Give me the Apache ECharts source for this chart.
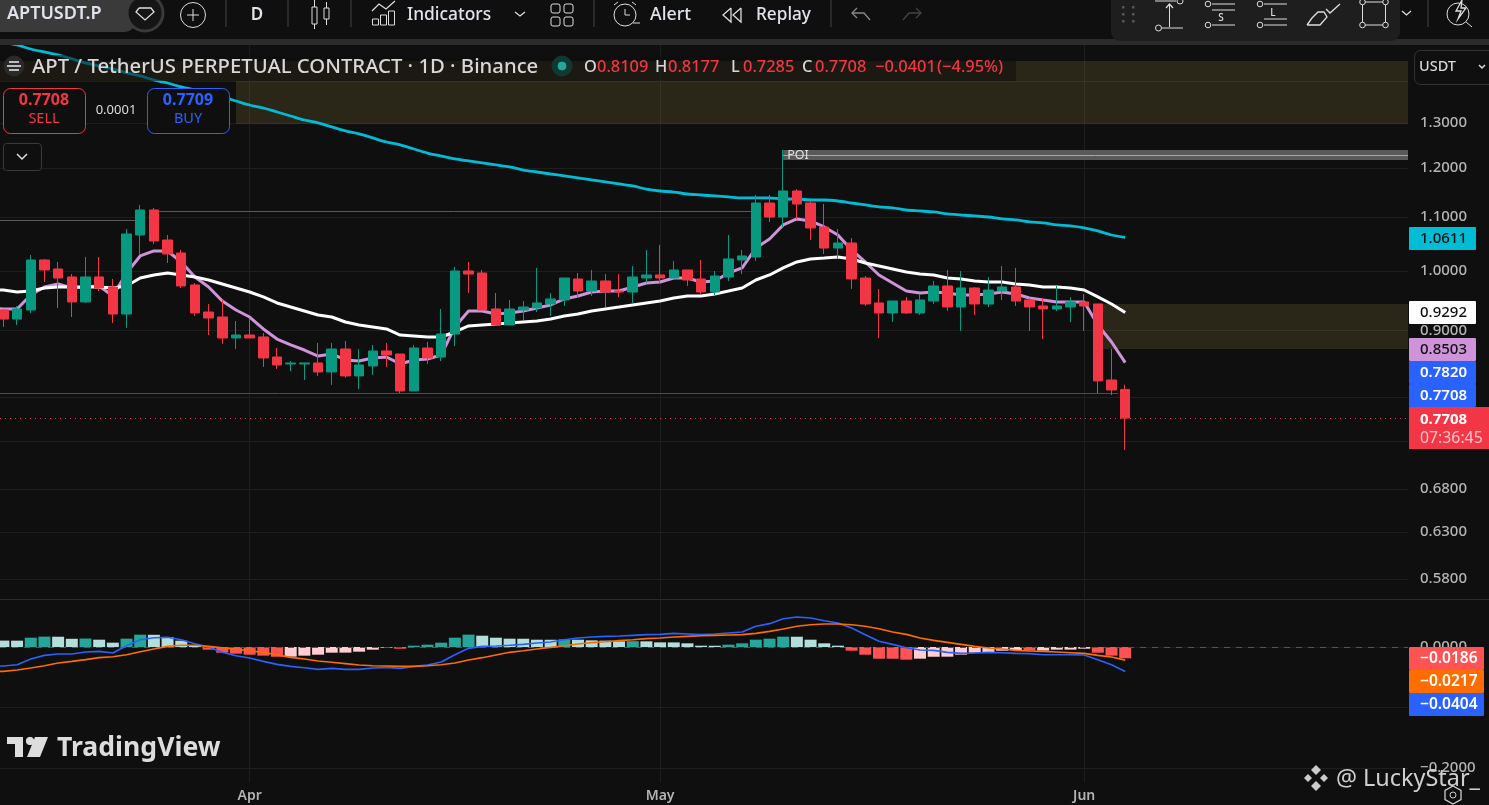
<!DOCTYPE html>
<html><head><meta charset="utf-8">
<style>html,body{margin:0;padding:0;background:#0f0f0f}#c{width:1489px;height:805px}</style>
<script src="https://cdn.jsdelivr.net/npm/echarts@6/dist/echarts.min.js"></script>
</head><body><div id="c"></div>
<script>
const DAY = 86400000;
const firstDay = Date.UTC(2026, 2, 13);
const dates = Array.from({length: 84}, (_, i) => firstDay + i * DAY);
const monthTicks = [Date.UTC(2026,3,1), Date.UTC(2026,4,1), Date.UTC(2026,5,1)];
const monthNames = {3:'Apr',4:'May',5:'Jun'};
const priceLabels = [1.3,1.2,1.1,1.0,0.9,0.68,0.63,0.58];
const priceGrid = [1.4,1.3,1.2,1.1,1.0,0.9,0.8,0.74,0.68,0.63,0.58];
const macdLabels = [0,-0.2];
const macdGrid = [0,-0.1,-0.2];

const opens = [.9333,.9185,.9333,1.0197,1.0036,.9895,.9467,.9895,.9721,.9267,
1.0658,1.1140,1.0564,1.0324,.9756,.9300,.9218,.8882,.8929,.8898,
.8588,.8483,.8483,.8498,.8364,.8711,.8305,.8453,.8680,.8634,
.8087,.8726,.8588,.8945,1.0000,.9965,.9350,.9089,.9333,.9367,
.9433,.9500,.9860,.9652,.9825,.9652,.9635,.9877,.9930,.9877,
1.0018,.9860,.9635,.9895,1.0197,1.0252,1.1279,1.1003,1.1521,1.1279,
1.0810,1.0415,1.0508,.9877,.9450,.9284,.9483,.9284,.9483,.9739,
.9383,.9704,.9433,.9652,.9721,.9500,.9400,.9350,.9383,.9467,
.9433,.8246,.8109];
const closes = [.9185,.9350,1.0197,1.0018,.9877,.9467,.9895,.9704,.9267,1.0677,
1.1140,1.0545,1.0306,.9739,.9284,.9202,.8882,.8929,.8882,.8573,
.8468,.8498,.8498,.8364,.8711,.8305,.8468,.8680,.8619,.8087,
.8726,.8573,.8945,1.0000,.9947,.9333,.9089,.9350,.9383,.9450,
.9517,.9877,.9652,.9825,.9635,.9635,.9895,.9930,.9877,1.0018,
.9842,.9635,.9912,1.0215,1.0270,1.1279,1.1003,1.1521,1.1259,1.0791,
1.0415,1.0508,.9860,.9433,.9284,.9483,.9284,.9500,.9739,.9383,
.9704,.9433,.9669,.9721,.9483,.9383,.9350,.9400,.9467,.9400,
.8232,.8101,.7708];
const lows = [.9057,.9089,.9284,.9807,.9367,.9218,.9450,.9652,.9121,.9041,
1.0288,1.0490,1.0143,.9704,.9235,.8929,.8788,.8711,.8882,.8438,
.8408,.8378,.8246,.8305,.8174,.8276,.8115,.8320,.8438,.8058,
.8087,.8483,.8528,.8757,.9618,.9333,.9089,.9089,.9169,.9300,
.9235,.9400,.9551,.9568,.9383,.9551,.9450,.9790,.9790,.9877,
.9739,.9601,.9585,.9825,.9947,1.0179,1.0907,1.0810,1.0965,1.0564,
1.0306,1.0215,.9687,.9400,.8882,.9137,.9267,.9251,.9433,.9317,
.8993,.9251,.9383,.9500,.9400,.8993,.8866,.9317,.9137,.8993,
.8058,.8030,.7285];
const highs = [.9350,.9400,1.0288,1.0215,1.0161,.9947,1.0252,1.0252,.9860,1.0772,
1.1240,1.1180,1.0658,1.0379,.9790,.9433,.9500,.9153,.9185,.8961,
.8726,.8528,.8498,.8804,.8804,.8835,.8711,.8773,.8804,.8634,
.8773,.8819,.9350,1.0072,1.0161,1.0018,.9618,.9500,.9483,1.0054,
.9618,.9877,.9965,1.0018,.9947,.9947,1.0090,1.0379,1.0472,1.0179,
1.0018,1.0197,1.0000,1.0658,1.0379,1.1440,1.1440,1.2388,1.1561,1.1319,
1.1259,1.0772,1.0600,.9912,.9687,.9483,.9551,.9601,.9825,1.0018,
1.0000,.9721,.9895,1.0090,1.0054,.9534,.9534,.9739,.9551,.9601,
.9433,.8711,.8177];

const emaSlow = [1.5105,1.4996,1.4919,1.4813,1.4735,1.4658,1.4556,1.4451,1.4375,1.4299,1.4198,
1.4123,1.4022,1.3948,1.3851,1.3776,1.3680,1.3607,1.3511,1.3415,1.3344,
1.3250,1.3157,1.3064,1.2996,1.2904,1.2813,1.2745,1.2655,1.2565,1.2499,
1.2410,1.2322,1.2257,1.2193,1.2150,1.2107,1.2064,1.2022,1.1957,1.1915,
1.1873,1.1832,1.1790,1.1748,1.1707,1.1665,1.1624,1.1561,1.1521,1.1500,
1.1460,1.1440,1.1420,1.1400,1.1380,1.1380,1.1380,1.1359,1.1359,1.1339,
1.1339,1.1319,1.1279,1.1240,1.1201,1.1181,1.1140,1.1121,1.1101,1.1062,
1.1042,1.1023,1.1003,1.0965,1.0945,1.0907,1.0887,1.0849,1.0830,1.0791,
1.0734,1.0658,1.0611];
const emaFast = [.9367,.9350,.9350,.9585,.9721,.9773,.9704,.9721,.9739,.9568,.9965,
1.0270,1.0361,1.0361,1.0161,.9895,.9721,.9483,.9333,.9218,.9025,
.8866,.8773,.8695,.8603,.8634,.8543,.8528,.8573,.8588,.8483,
.8543,.8558,.8619,.9057,.9317,.9317,.9267,.9284,.9317,.9367,
.9417,.9517,.9568,.9635,.9652,.9652,.9721,.9790,.9807,.9877,
.9877,.9807,.9825,.9965,1.0054,1.0415,1.0582,1.0849,1.0965,1.0926,
1.0810,1.0658,1.0379,1.0161,.9930,.9790,.9652,.9618,.9635,.9618,
.9585,.9585,.9601,.9635,.9601,.9534,.9500,.9467,.9467,.9467,
.9089,.8819,.8503];
const emaMid = [.9669,.9669,.9635,.9652,.9704,.9721,.9721,.9721,.9721,.9704,.9739,
.9877,.9930,.9965,.9930,.9895,.9842,.9773,.9704,.9635,.9551,
.9450,.9383,.9317,.9251,.9218,.9137,.9089,.9057,.9025,.8929,
.8914,.8898,.8898,.8977,.9073,.9089,.9105,.9121,.9137,.9153,
.9185,.9235,.9267,.9317,.9350,.9383,.9417,.9450,.9483,.9534,
.9568,.9568,.9601,.9652,.9704,.9842,.9930,1.0054,1.0161,1.0215,
1.0233,1.0252,1.0215,1.0143,1.0090,1.0036,.9982,.9947,.9930,.9877,
.9860,.9825,.9807,.9807,.9773,.9756,.9721,.9721,.9704,.9669,
.9551,.9433,.9292];

const macdHist = [.0106,.0105,.0154,.0172,.0170,.0136,.0140,.0121,.0072,.0138,
.0204,.0202,.0165,.0105,.0022,-.0044,-.0094,-.0110,-.0127,-.0143,
-.0161,-.0159,-.0143,-.0127,-.0094,-.0093,-.0077,-.0044,-.0011,-.0028,
.0022,.0039,.0072,.0154,.0204,.0187,.0154,.0138,.0137,.0121,
.0120,.0127,.0121,.0110,.0105,.0094,.0096,.0094,.0077,.0076,
.0061,.0022,.0021,.0039,.0061,.0121,.0138,.0171,.0170,.0121,
.0061,.0022,-.0061,-.0127,-.0193,-.0194,-.0209,-.0193,-.0161,-.0160,
-.0127,-.0094,-.0093,-.0061,-.0050,-.0061,-.0060,-.0044,-.0043,-.0028,
-.0094,-.0143,-.0186];
const macdLine = [-.0318,-.0314,-.0292,-.0198,-.0138,-.0116,-.0116,-.0083,-.0072,-.0099,.0022,
.0121,.0154,.0160,.0121,.0055,0,-.0088,-.0143,-.0182,-.0237,
-.0287,-.0320,-.0342,-.0369,-.0353,-.0369,-.0369,-.0347,-.0336,-.0353,
-.0320,-.0298,-.0248,-.0127,-.0022,.0011,.0017,.0028,.0044,.0066,
.0083,.0121,.0149,.0165,.0176,.0182,.0193,.0204,.0209,.0226,
.0215,.0204,.0215,.0231,.0248,.0342,.0386,.0468,.0496,.0479,
.0435,.0397,.0314,.0204,.0094,.0044,-.0011,-.0050,-.0055,-.0088,
-.0105,-.0099,-.0088,-.0094,-.0105,-.0110,-.0127,-.0127,-.0127,-.0132,
-.0209,-.0292,-.0404];
const signalLine = [-.0406,-.0402,-.0380,-.0347,-.0309,-.0264,-.0237,-.0209,-.0176,-.0160,-.0127,
-.0077,-.0033,.0011,.0028,.0028,.0011,-.0011,-.0039,-.0061,-.0088,
-.0127,-.0171,-.0198,-.0231,-.0253,-.0275,-.0298,-.0309,-.0314,-.0320,
-.0320,-.0309,-.0292,-.0264,-.0215,-.0176,-.0132,-.0088,-.0061,-.0033,
-.0006,.0022,.0050,.0072,.0088,.0105,.0121,.0138,.0149,.0165,
.0176,.0187,.0193,.0198,.0204,.0226,.0259,.0298,.0342,.0369,
.0380,.0380,.0369,.0342,.0303,.0248,.0209,.0149,.0110,.0077,
.0044,.0011,-.0017,-.0033,-.0055,-.0066,-.0072,-.0083,-.0094,-.0105,
-.0138,-.0165,-.0217];

const zoneHigh = [1.4502, 1.2972];
const zoneHighStrip = [1.4502, 1.4];
const zoneLow = [.9433, .8711];
const poiZone = [1.2388, 1.2171];
const poiLevel = 1.2279;
const levelA = 1.1120, levelB = 1.0940, levelC = .8058, lastClose = .7708;

const FONT = '"Noto Sans"';
const BG = '#0f0f0f', UP = '#089981', DOWN = '#F23645', GRID = '#1e1e1e';
const xMin = firstDay + 0.7515 * DAY, xMax = firstDay + 103.67 * DAY;
const d = i => dates[i + 1]; // candle number -> date

const candleData = opens.map((o, i) => [d(i), o, closes[i], lows[i], highs[i]]);
const pair = arr => arr.map((v, i) => [dates[i], v]);
const histData = macdHist.map((v, i) => [d(i), v]);
const histColor = i => {
  const v = macdHist[i], p = i ? macdHist[i - 1] : Infinity;
  return v >= 0 ? (v > p ? '#26A69A' : '#B2DFDB') : (v < p ? '#FF5252' : '#FFCDD2');
};

// ---- interface chrome helpers ----
const g = [];
const R = (x,y,w,h,fill,o={}) => g.push({type:'rect',z:100,silent:true,shape:{x,y,width:w,height:h,r:o.r||0},style:{fill,stroke:o.stroke||null,lineWidth:o.lw||1}});
const T = (t,x,y,fill,font,align='left') => g.push({type:'text',z:101,silent:true,x,y,style:{text:t,fill,font:font+' '+FONT,textAlign:align,textVerticalAlign:'middle'}});
const L = (x1,y1,x2,y2,c='#ddd',w=1) => g.push({type:'line',z:101,silent:true,shape:{x1,y1,x2,y2},style:{stroke:c,lineWidth:w}});
const C = (cx,cy,r,stroke,fill=null,w=1) => g.push({type:'circle',z:101,silent:true,shape:{cx,cy,r},style:{stroke,fill,lineWidth:w}});
const P = (pts,c='#ddd',w=1.3) => g.push({type:'polyline',z:101,silent:true,shape:{points:pts},style:{stroke:c,lineWidth:w,fill:null}});
const G = (pts,fill) => g.push({type:'polygon',z:101,silent:true,shape:{points:pts},style:{fill}});

// top toolbar
R(0,0,1489,39,BG);
R(0,39,1489,6,'#2b2b2b');
R(-10,-10,145,42,'#3a3a3a',{r:10});
C(145,13,18,'#3a3a3a','#151515',3);
T('APTUSDT.P',7,14,'#e0e3eb','600 18px');
P([[139,8],[151,8],[154,12],[145,20],[136,12],[139,8]],'#ddd',1.3);
R(143.5,9,3,7,'#ddd');
C(193,15,12.5,'#ddd'); L(187,15,199,15); L(193,9,193,21);
L(226,0,226,27,'#444');
T('D',257,15,'#e0e3eb','600 17px','center');
L(288,0,288,27,'#444');
g.push({type:'rect',z:101,silent:true,shape:{x:312,y:7,width:5,height:17},style:{stroke:'#ddd',fill:null}});
g.push({type:'rect',z:101,silent:true,shape:{x:324,y:8,width:5,height:11},style:{stroke:'#ddd',fill:null}});
L(314.5,0,314.5,7); L(314.5,24,314.5,29); L(326.5,2,326.5,8); L(326.5,19,326.5,25);
L(351,0,351,27,'#444');
P([[372,11],[379,4],[386,9],[395,1]]);
g.push({type:'rect',z:101,silent:true,shape:{x:372.5,y:19,width:6,height:6},style:{stroke:'#ddd',fill:null}});
g.push({type:'rect',z:101,silent:true,shape:{x:380.5,y:15,width:6,height:10},style:{stroke:'#ddd',fill:null}});
g.push({type:'rect',z:101,silent:true,shape:{x:388.5,y:11,width:6,height:14},style:{stroke:'#ddd',fill:null}});
T('Indicators',407,15,'#e0e3eb','500 17.4px');
P([[515,12],[520,16],[525,12]]);
[[551,4],[564,4],[551,17],[564,17]].forEach(p=>g.push({type:'rect',z:101,silent:true,shape:{x:p[0],y:p[1],width:9,height:9,r:2},style:{stroke:'#ddd',fill:null}}));
L(594,0,594,27,'#444');
C(625,15,11,'#ddd'); L(625,9,625,15); L(625,15,630,15); L(614,5,618,2); L(636,5,632,2); L(633,23,640,23);
T('Alert',650,15,'#e0e3eb','500 17.8px');
P([[731,8],[723,15],[731,22],[731,8]]); P([[741,8],[733,15],[741,22],[741,8]]);
T('Replay',756,15,'#e0e3eb','500 17.2px');
L(831,0,831,27,'#444');
P([[857,8],[852,13],[857,18]],'#888'); P([[852,13],[864,13],[870,20]],'#888');
P([[916,8],[921,13],[916,18]],'#444'); P([[921,13],[909,13],[903,20]],'#444');
// drawing toolbar
R(1111,-10,289,51,'#1e1e1e',{r:9});
[[1122,6],[1132,6],[1122,13],[1132,13],[1122,20],[1132,20]].forEach(p=>R(p[0],p[1],2.5,2.5,'#555'));
L(1169.5,5,1169.5,27); P([[1166,8],[1169.5,4],[1173,8]]); L(1162,28,1183,28); C(1158.5,28,3,'#ddd'); L(1155,1,1176,1); C(1180,1,3,'#ddd');
[1208,1260].forEach((x,k)=>{ L(x+4,4,x+27,4); C(x,4,2.8,'#ddd'); L(x+4,k?19:10,x+27,k?19:10); L(x+4,25,x+27,25); C(x,25,2.8,'#ddd'); T(k?'L':'S',x+13,k?13:18,'#ddd','500 10px','center'); });
P([[1307,25],[1320,25],[1327,17],[1324,12],[1318,12],[1312,18],[1307,25]]);
P([[1326,9],[1330,13],[1340,4]]);
g.push({type:'rect',z:101,silent:true,shape:{x:1362.5,y:2,width:23,height:23},style:{stroke:'#ddd',fill:null}});
[[1362.5,2],[1385.5,2],[1362.5,25],[1385.5,25]].forEach(p=>C(p[0],p[1],2.8,'#ddd','#1e1e1e'));
P([[1402,11],[1406.5,15],[1411,11]]);
L(1428,0,1428,27,'#444');
C(1458,14,11,'#ddd'); L(1466,22,1472,27); G([[1462,0],[1456,11],[1461,11],[1458,19],[1466,8],[1461,8]],'#0f0f0f'); P([[1462,0],[1456,11],[1461,11],[1458,19],[1466,8],[1461,8],[1462,0]]);

// legend
R(0,55,1016,26,'rgba(15,15,15,0.55)');
C(14,66,10,'#2a2a2a','#2a2a2a'); L(9,62,19,62,'#eee',1.5); L(7,66,21,66,'#eee',1.5); L(9,70,19,70,'#eee',1.5);
T('APT / TetherUS PERPETUAL CONTRACT · 1D · Binance',32,67,'#d8d8d8','500 20.3px');
C(562,66,10,'#0f3a34','#0f3a34'); C(562,66,4,'#26A69A','#26A69A');
[['O',584,'#d8d8d8'],['0.8109',597,DOWN],['H',655,'#d8d8d8'],['0.8177',668,DOWN],['L',731,'#d8d8d8'],['0.7285',743,DOWN],['C',802,'#d8d8d8'],['0.7708',815,DOWN],['−0.0401',875,DOWN],['(−4.95%)',937,DOWN]].forEach(a=>T(a[0],a[1],67,a[2],'500 16.4px'));
// order buttons
R(3.5,88.5,82,45,BG,{r:7,stroke:DOWN});
T('0.7708',44,100,DOWN,'700 16px','center'); T('SELL',44,119,DOWN,'400 14.5px','center');
R(86,100,60,22,BG);
T('0.0001',116,110,'#ddd','400 13px','center');
R(147.5,88.5,82,45,BG,{r:7,stroke:'#2962FF'});
T('0.7709',188,100,'#2962FF','700 16px','center'); T('BUY',188,119,'#2962FF','400 14.5px','center');
R(3.5,143.5,38,27,BG,{r:3,stroke:'#3a3a3a'});
P([[17,154],[22,159],[27,154]],'#ddd',1.5);
// currency button
R(1408,45,81,40,BG);
R(1414.5,50.5,90,34,BG,{r:6,stroke:'#333'});
T('USDT',1419,67,'#d8d8d8','500 14.5px');
P([[1479,65],[1482,68],[1485,65]],'#ddd',1.5);
// price badges
const badge=(x,y,w,h,fill,t,c,weight='500',size=15)=>{R(x,y,w,h,fill,{r:1});T(t,1420,y+h/2+0.5,c,weight+' '+size+'px');};
badge(1409,227,67,23,'#00BCD4','1.0611','#111');
badge(1409,301,67,23,'#FFFFFF','0.9292','#111');
badge(1409,338,67,23,'#CE93D8','0.8503','#111');
badge(1409,361,67,23,'#2962FF','0.7820','#fff','600');
badge(1409,384,67,23,'#2962FF','0.7708','#fff','600');
R(1409,407,80,42,DOWN);
T('0.7708',1420,419.5,'#fff','700 15px');
T('07:36:45',1420,438.5,'#ffc4c9','400 15.8px');
badge(1409,647,75,23,'#FF5252','−0.0186','#fff','600',15.5);
badge(1409,670,75,23,'#FF6D00','−0.0217','#fff','600',15.5);
badge(1409,693,75,23,'#2962FF','−0.0404','#fff','600',15.5);
// pane separator
L(0,599.5,1489,599.5,'#2b2b2b');
// TradingView logo
G([[7,737],[23,737],[23,757],[15,757],[15,744],[7,744]],'#ddd');
C(30,741,3.7,'#ddd','#ddd');
G([[35,737],[48,737],[40,757],[27,757]],'#ddd');
T('TradingView',57,748,'#ddd','700 26.6px');
// watermark
G([[1316,765],[1321,770],[1316,775],[1311,770]],'#ccc');
G([[1304,778],[1308,774],[1312,778],[1308,782]],'#ccc');
G([[1320,778],[1324,774],[1328,778],[1324,782]],'#ccc');
G([[1316,781],[1321,786],[1316,791],[1311,786]],'#ccc');
T('@ LuckyStar_',1336,779,'#cfcfcf','400 23.4px');
P([[1453,786],[1461,790.5],[1461,799.5],[1453,804],[1445,799.5],[1445,790.5],[1453,786]],'#ccc',1.3);
C(1453,795,3,'#ccc');

const chart = echarts.init(document.getElementById('c'), null, {renderer:'canvas'});
const labelStyle = {color:'#b4b4b4', fontFamily:FONT, fontSize:15, fontWeight:500};
const xCommon = {type:'value', min:xMin, max:xMax, axisLine:{show:false},
  axisTick:{show:false, customValues:monthTicks}, splitLine:{show:true, lineStyle:{color:GRID}}};
const yCommon = {position:'right', axisLine:{show:false}, splitLine:{show:true, lineStyle:{color:GRID}}};

chart.setOption({
  animation:false, backgroundColor:BG, tooltip:{show:false}, legend:{show:false},
  grid:[{left:0,top:45,width:1408,height:553},{left:0,top:600,width:1408,height:182}],
  xAxis:[
    {...xCommon, gridIndex:0, axisLabel:{show:false}},
    {...xCommon, gridIndex:1, axisLabel:{...labelStyle, fontSize:14, fontWeight:600, margin:7, customValues:monthTicks, hideOverlap:false,
      formatter:v=>monthNames[new Date(+v).getUTCMonth()]||''}}
  ],
  yAxis:[
    {...yCommon, type:'log', gridIndex:0, min:0.5606, max:1.4918,
     axisTick:{show:false, customValues:priceGrid},
     axisLabel:{...labelStyle, margin:12, padding:[3,0,0,0], customValues:priceLabels, formatter:v=>(+v).toFixed(4)}},
    {...yCommon, type:'value', gridIndex:1, min:-0.2231, max:0.0777,
     axisTick:{show:false, customValues:macdGrid},
     axisLabel:{...labelStyle, margin:12, customValues:macdLabels, formatter:v=>(+v).toFixed(4).replace('-','−')}}
  ],
  graphic:{elements:g},
  series:[
    {name:'EMA slow',type:'line',xAxisIndex:0,yAxisIndex:0,data:pair(emaSlow),symbol:'none',z:2,smooth:0.3,lineStyle:{color:'#00BCD4',width:2.8}},
    {name:'EMA fast',type:'line',xAxisIndex:0,yAxisIndex:0,data:pair(emaFast),symbol:'none',z:2,lineStyle:{color:'#CE93D8',width:3}},
    {name:'EMA mid',type:'line',xAxisIndex:0,yAxisIndex:0,data:pair(emaMid),symbol:'none',z:2,lineStyle:{color:'#FFFFFF',width:3},
     markArea:{silent:true,z:1,itemStyle:{color:'rgba(240,207,90,0.12)'},data:[
       [{xAxis:d(17),yAxis:zoneHigh[0]},{xAxis:xMax,yAxis:zoneHigh[1]}],
       [{xAxis:xMin,yAxis:zoneHighStrip[0]},{xAxis:d(17),yAxis:zoneHighStrip[1]}],
       [{xAxis:d(80),yAxis:zoneLow[0]},{xAxis:xMax,yAxis:zoneLow[1]}],
       [{name:'POI',xAxis:d(57),yAxis:poiZone[0],itemStyle:{color:'#595959'},
         label:{show:true,position:'insideLeft',distance:4,color:'#e0e0e0',fontFamily:FONT,fontSize:12.5,formatter:'POI'}},
        {xAxis:xMax,yAxis:poiZone[1]}]
     ]},
     markLine:{silent:true,symbol:'none',z:1,label:{show:false},data:[
       [{coord:[d(11),levelA],lineStyle:{color:'#5a5a5a',width:1,type:'solid'}},{coord:[d(54)+0.8*DAY,levelA]}],
       [{coord:[xMin,levelB],lineStyle:{color:'#5a5a5a',width:1,type:'solid'}},{coord:[d(10),levelB]}],
       [{coord:[xMin,levelC],lineStyle:{color:'#2d5c55',width:1,type:'solid'}},{coord:[d(81)+0.5*DAY,levelC]}],
       [{coord:[d(57),poiLevel],lineStyle:{color:'#a8a8a8',width:1,type:'solid'}},{coord:[xMax,poiLevel]}],
       [{coord:[xMin,lastClose],lineStyle:{color:DOWN,width:1,type:[1,4]}},{coord:[xMax,lastClose]}]
     ]}},
    {name:'APTUSDT.P',type:'candlestick',xAxisIndex:0,yAxisIndex:0,data:candleData,barWidth:10,z:3,
     itemStyle:{color:UP,color0:DOWN,borderColor:UP,borderColor0:DOWN,borderWidth:1}},
    {name:'Histogram',type:'bar',xAxisIndex:1,yAxisIndex:1,data:histData,barWidth:12,z:2,
     itemStyle:{color:p=>histColor(p.dataIndex)},
     markLine:{silent:true,symbol:'none',z:3,label:{show:false},lineStyle:{color:'#555',type:[6,6],width:1},data:[{yAxis:0}]}},
    {name:'MACD',type:'line',xAxisIndex:1,yAxisIndex:1,data:pair(macdLine),symbol:'none',z:3,lineStyle:{color:'#2962FF',width:1.6}},
    {name:'Signal',type:'line',xAxisIndex:1,yAxisIndex:1,data:pair(signalLine),symbol:'none',z:3,lineStyle:{color:'#FF6D00',width:1.6}}
  ]
});
</script></body></html>
